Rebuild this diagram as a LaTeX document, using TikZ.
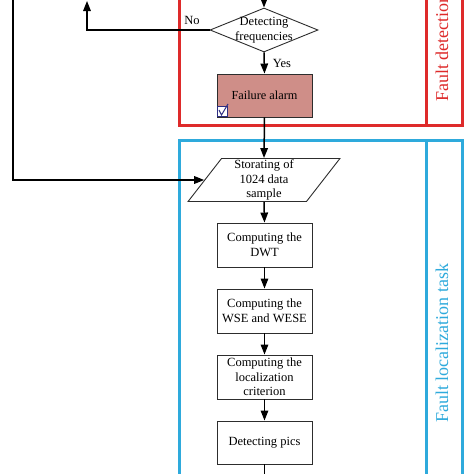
\documentclass[tikz,border=0pt]{standalone}
\usepackage{fontspec}
\setmainfont{Liberation Serif}
\usetikzlibrary{arrows.meta,shapes.geometric}
\definecolor{fred}{RGB}{222,42,42}
\definecolor{fblue}{RGB}{46,170,220}
\definecolor{alarmfill}{RGB}{207,142,136}
\definecolor{boxline}{RGB}{45,45,45}
\definecolor{chk}{RGB}{45,45,130}
\begin{document}
\begin{tikzpicture}[x=1pt,y=-1pt,
  flow/.style={draw=boxline,line width=0.9pt,align=center,font=\fontsize{12.5}{14.5}\selectfont,minimum width=95pt,minimum height=44pt,inner sep=1pt},
  arr/.style={line width=1.5pt,-{Triangle[length=10pt,width=7.5pt]}},
  ln/.style={line width=1.5pt},
  frame/.style={line width=3pt},
  lbl/.style={font=\fontsize{12.5}{14.5}\selectfont,inner sep=0pt},
  sidetxt/.style={rotate=90,anchor=base west,font=\fontsize{18}{18}\selectfont,inner sep=0pt}]
\useasboundingbox (0,0) rectangle (474,474);
\clip (0,0) rectangle (474,474);
\fill[white] (0,0) rectangle (474,474);
% frames
\draw[frame,fred] (179,-10) -- (179,125) -- (462,125) -- (462,-10);
\draw[frame,fred] (426,-10) -- (426,125);
\draw[frame,fblue] (179,484) -- (179,140) -- (462,140) -- (462,484);
\draw[frame,fblue] (426,140) -- (426,484);
\node[sidetxt,text=fred] (tdet) at (448,102) {Fault detection};
\node[sidetxt,text=fblue] (tloc) at (448,423) {Fault localization task};
% nodes
\node[diamond,draw=boxline,line width=0.9pt,fill=white,minimum width=108pt,minimum height=44pt,inner sep=0pt] (dia) at (264,30) {};
\node[lbl,align=center] (diatxt) at (264,30) {Detecting\\frequencies};
\node[flow,fill=alarmfill,minimum height=43pt,font=\fontsize{12.3}{14}\selectfont] (alarm) at (264.5,95.5) {Failure alarm};
\node[draw=chk,fill=white,line width=0.8pt,minimum size=10pt,inner sep=0pt] (chkbox) at (222,111.5) {};
\draw[chk,line width=1pt] (219,110) -- (221.5,115) -- (228,104);
\node[trapezium,trapezium left angle=60,trapezium right angle=120,trapezium stretches=true,draw=boxline,line width=0.9pt,minimum width=152pt,minimum height=43pt,inner sep=0pt,align=center,font=\fontsize{12.5}{14.5}\selectfont] (para) at (264,180) {Storating of\\1024 data\\sample};
\node[flow] (dwt) at (264.5,245) {Computing the\\DWT};
\node[flow] (wse) at (264.5,311) {Computing the\\WSE and WESE};
\node[flow] (loc) at (264.5,377) {Computing the\\localization\\criterion};
\node[flow,minimum height=43pt] (pics) at (264.5,442.5) {Detecting pics};
% free ends
\coordinate (inTop) at (264,-6);
\coordinate (noTop) at (87,1);
\coordinate (loopTop) at (13,-6);
\coordinate (botEnd) at (264.5,480);
% labels
\node[lbl] (nolbl) at (192,20) {No};
\node[lbl] (yeslbl) at (282,63) {Yes};
% connectors
\draw[arr] (inTop) -- (dia.north);
\draw[arr] (dia.west) -| (noTop);
\draw[arr] (dia.south) -- (alarm.north);
\draw[arr] (alarm.south) -- (para.north);
\draw[arr] (loopTop) |- (para.west);
\draw[arr] (para.south) -- (dwt.north);
\draw[arr] (dwt.south) -- (wse.north);
\draw[arr] (wse.south) -- (loc.north);
\draw[arr] (loc.south) -- (pics.north);
\draw[ln] (pics.south) -- (botEnd);
\end{tikzpicture}
\end{document}
